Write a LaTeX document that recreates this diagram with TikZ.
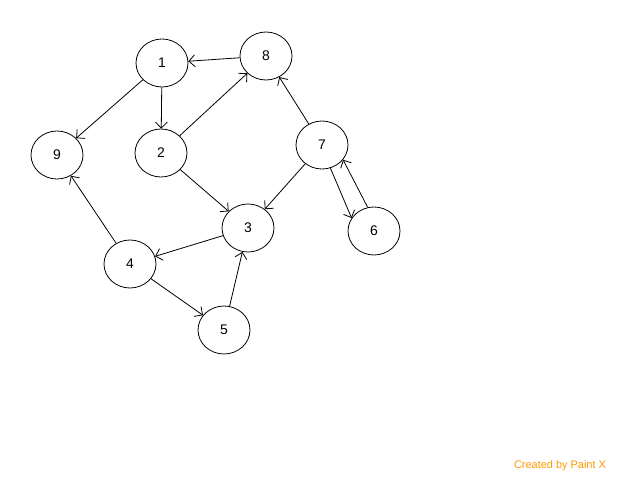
\documentclass[tikz,border=0pt]{standalone}
\usepackage{fontspec}
\setmainfont{Liberation Sans}
\usetikzlibrary{shapes.geometric,arrows.meta}
\begin{document}
\begin{tikzpicture}[x=1bp,y=-1bp,
  vert/.style={ellipse,draw,thick,minimum width=52bp,minimum height=48bp,inner sep=0pt,font=\fontsize{14}{14}\selectfont},
  edge/.style={thick,-{Straight Barb[length=6bp,width=12bp]}}]
\useasboundingbox (0,0) rectangle (640,480);
\node[vert] (1) at (162,63) {1};
\node[vert] (8) at (266,56) {8};
\node[vert] (9) at (57,155) {9};
\node[vert] (2) at (161,153) {2};
\node[vert] (7) at (322,145) {7};
\node[vert] (3) at (248,228) {3};
\node[vert] (6) at (374,231) {6};
\node[vert] (4) at (130,264) {4};
\node[vert] (5) at (224,330) {5};
\draw[edge] (8) -- (1);
\draw[edge] (1) -- (9);
\draw[edge] (1) -- (2);
\draw[edge] (2) -- (8);
\draw[edge] (2) -- (3);
\draw[edge] (7) -- (8);
\draw[edge] (7) -- (3);
\draw[edge] (7.-70) -- (6.150);
\draw[edge] (6.105) -- (7.-35);
\draw[edge] (3) -- (4);
\draw[edge] (4) -- (9);
\draw[edge] (4) -- (5);
\draw[edge] (5) -- (3);
\node[text=orange!80!yellow,font=\fontsize{11}{11}\selectfont] (lbl) at (560,466) {Created by Paint X};
\end{tikzpicture}
\end{document}
